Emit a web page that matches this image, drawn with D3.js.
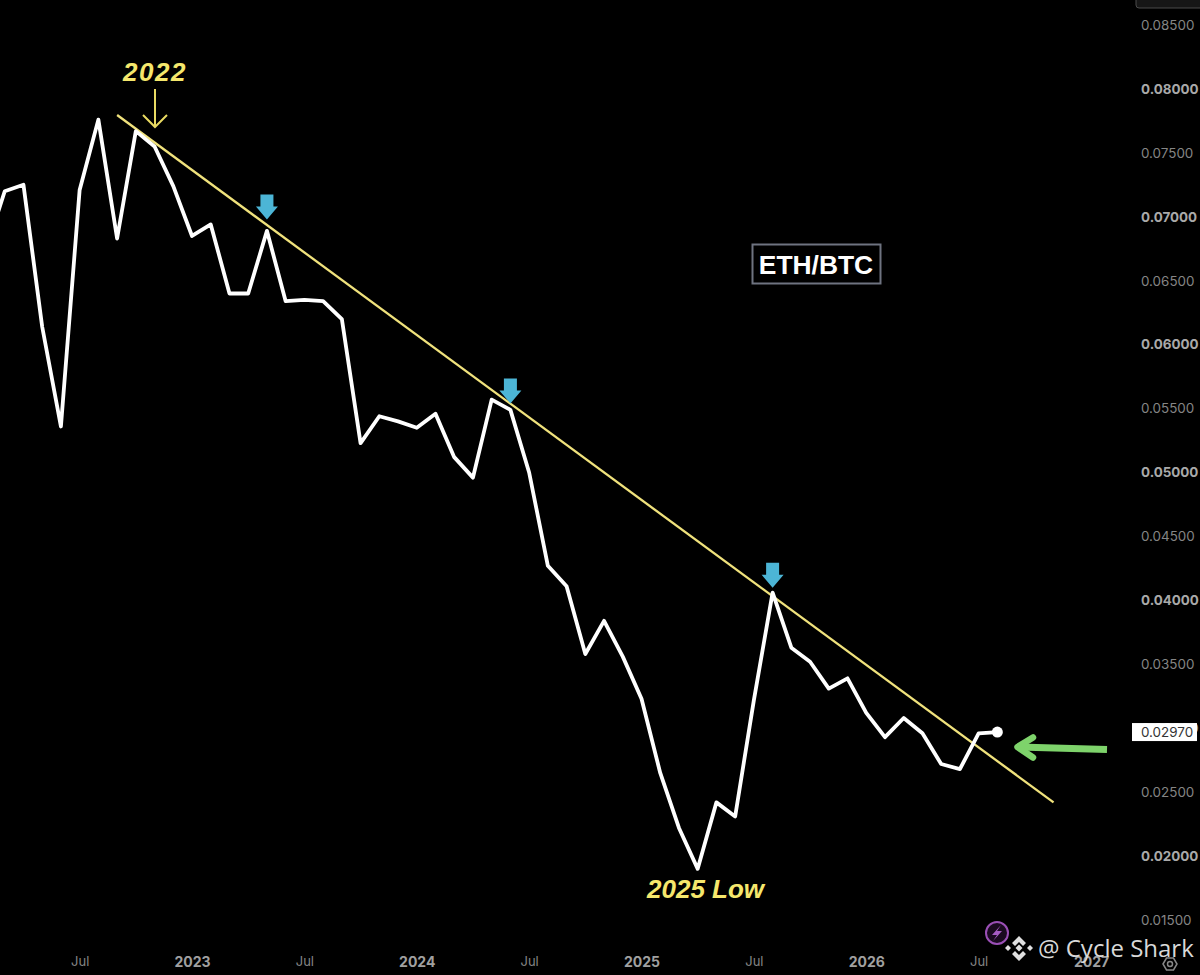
<!DOCTYPE html>
<html>
<head>
<meta charset="utf-8">
<script src="https://cdn.jsdelivr.net/npm/d3@7"></script>
<style>
html,body{margin:0;padding:0;background:#000;overflow:hidden}
svg{display:block}
</style>
</head>
<body>
<svg id="c" width="1200" height="975"></svg>
<script>
const months = ["2022-02","2022-03","2022-04","2022-05","2022-06","2022-07","2022-08","2022-09","2022-10","2022-11","2022-12",
"2023-01","2023-02","2023-03","2023-04","2023-05","2023-06","2023-07","2023-08","2023-09","2023-10","2023-11","2023-12",
"2024-01","2024-02","2024-03","2024-04","2024-05","2024-06","2024-07","2024-08","2024-09","2024-10","2024-11","2024-12",
"2025-01","2025-02","2025-03","2025-04","2025-05","2025-06","2025-07","2025-08","2025-09","2025-10","2025-11","2025-12",
"2026-01","2026-02","2026-03","2026-04","2026-05","2026-06","2026-07","2026-08"];
const axisMonths = months.concat(["2026-09","2026-10","2026-11","2026-12","2027-01"]);
const ethbtc = [0.0674,0.0720,0.0725,0.0614,0.0536,0.0721,0.0776,0.0683,0.0767,0.0755,0.0724,
0.0685,0.0694,0.0640,0.0640,0.0689,0.0634,0.0635,0.0634,0.0620,0.0523,0.0544,0.0540,
0.0535,0.0546,0.0512,0.0496,0.0557,0.0549,0.0500,0.0427,0.0411,0.0358,0.0384,0.0356,
0.0323,0.0265,0.0222,0.0190,0.0242,0.0231,0.0322,0.0406,0.0363,0.0352,0.0331,0.0339,
0.0312,0.0293,0.0308,0.0296,0.0272,0.0268,0.0296,0.0297];
const trendMonths = ["2022-09","2026-11"];
const trendValues = [0.07796,0.0242];
const xTickMonths = ["2022-07","2023-01","2023-07","2024-01","2024-07","2025-01","2025-07","2026-01","2026-07","2027-01"];
const xTickLabels = ["Jul","2023","Jul","2024","Jul","2025","Jul","2026","Jul","2027"];
const yTicks = [0.085,0.08,0.075,0.07,0.065,0.06,0.055,0.05,0.045,0.04,0.035,0.03,0.025,0.02,0.015];
const yBold = [0.08,0.07,0.06,0.05,0.04,0.03,0.02];
const lastLabel = "0.02970";
const resistanceTouches = [["2023-05",0.0694],["2024-06",0.0550],["2025-08",0.0406]].map(d=>({month:d[0],value:d[1]}));

const svg = d3.select("#c");
const x = d3.scalePoint().domain(axisMonths).range([-14,1091]);
const y = d3.scaleLinear().domain([0.015,0.085]).range([920,25]);

svg.append("rect").attr("width",1200).attr("height",975).attr("fill","#000");

// remnant of a top-right box
svg.append("rect").attr("x",1136).attr("y",-12).attr("width",90).attr("height",20).attr("rx",3)
  .attr("fill","#161616").attr("stroke","#4a4a4a").attr("stroke-width",1);

// y axis
const yAxis = svg.append("g").attr("transform","translate(1141,0)")
  .call(d3.axisRight(y).tickValues(yTicks).tickSize(0).tickPadding(0).tickFormat(d3.format(".5f")));
yAxis.select(".domain").remove();
yAxis.selectAll("text")
  .attr("font-family","Inter, sans-serif").attr("font-size",13.4)
  .attr("font-weight",d=>yBold.includes(d)?700:400)
  .attr("fill",d=>yBold.includes(d)?"#a9a9a9":"#858585");

// x axis
const xAxis = svg.append("g").attr("transform","translate(0,957)")
  .call(d3.axisBottom(x).tickValues(xTickMonths).tickSize(0).tickPadding(0)
    .tickFormat((d,i)=>xTickLabels[i]));
xAxis.select(".domain").remove();
xAxis.selectAll("text")
  .attr("font-family","Inter, sans-serif")
  .attr("font-size",(d,i)=>i%2?14:13)
  .attr("font-weight",(d,i)=>i%2?700:400)
  .attr("fill",(d,i)=>i%2?"#a0a0a0":"#858585");

// trend line
const line = d3.line().x(d=>x(d[0])).y(d=>y(d[1]));
svg.append("path").datum(d3.zip(trendMonths,trendValues)).attr("d",line)
  .attr("fill","none").attr("stroke","#f0e27c").attr("stroke-width",2.3);

// price line
svg.append("path").datum(d3.zip(months,ethbtc)).attr("d",line)
  .attr("fill","none").attr("stroke","#fff").attr("stroke-width",3.8).attr("stroke-linejoin","round");
svg.append("circle").attr("cx",x(months[months.length-1])).attr("cy",y(ethbtc[ethbtc.length-1])).attr("r",5.5).attr("fill","#fff");

// last price tag
const tagY = y(ethbtc[ethbtc.length-1]);
svg.append("rect").attr("x",1132).attr("y",tagY-9).attr("width",65).attr("height",18).attr("fill","#fff");
svg.append("text").attr("x",1141).attr("y",tagY+4.8).text(lastLabel)
  .attr("font-family","Inter, sans-serif").attr("font-size",13.4).attr("fill","#333");

// blue arrows
svg.selectAll(".blue").data(resistanceTouches).join("path").attr("class","blue")
  .attr("transform",d=>`translate(${x(d.month)},${y(d.value)-5})`)
  .attr("d","M0,0L-11,-13L-6.5,-13L-6.5,-25L6.5,-25L6.5,-13L11,-13Z")
  .attr("fill","#4cb5d6");

// yellow arrow
svg.append("path").attr("d","M155,89V127M143,115L155,127L167,115")
  .attr("fill","none").attr("stroke","#e9da62").attr("stroke-width",2);

// text annotations
function note(t,px,py,ls){
  svg.append("text").attr("x",px).attr("y",py).text(t)
    .attr("font-family","Liberation Sans, Arial, sans-serif").attr("font-size",26)
    .attr("font-weight",700).attr("font-style","italic").attr("letter-spacing",ls)
    .attr("fill","#f5e76c");
}
note("2022",123,81,1.5);
note("2025 Low",647,898,0);

// green arrow
svg.append("path").attr("d","M1107,749.5L1019,747")
  .attr("fill","none").attr("stroke","#7ed36b").attr("stroke-width",7);
svg.append("path").attr("d","M1033,737.5L1017.5,747L1033,757.5")
  .attr("fill","none").attr("stroke","#7ed36b").attr("stroke-width",6.5)
  .attr("stroke-linecap","round").attr("stroke-linejoin","round");

// ETH/BTC box
svg.append("rect").attr("x",752.5).attr("y",244.5).attr("width",128).attr("height",39)
  .attr("fill","#000").attr("stroke","#6e7380").attr("stroke-width",2);
svg.append("text").attr("x",816).attr("y",274).attr("text-anchor","middle").text("ETH/BTC")
  .attr("font-family","Liberation Sans, Arial, sans-serif").attr("font-size",26.4).attr("font-weight",700).attr("fill","#fff");

// watermark
const wm = svg.append("g");
wm.append("circle").attr("cx",997).attr("cy",933).attr("r",11).attr("fill","#1a0a20").attr("stroke","#9a4fb5").attr("stroke-width",2);
wm.append("path").attr("d","M1001,925L992,935L997,935L993,941L1002,931L997,931Z").attr("fill","#a65cc4");
const dia = (cx,cy,r)=>`M${cx},${cy-r}L${cx+r},${cy}L${cx},${cy+r}L${cx-r},${cy}Z`;
wm.append("path").attr("d",dia(1019,948,3.5)).attr("fill","#e0e0e0");
wm.append("path").attr("d",dia(1008,948,3)).attr("fill","#e0e0e0");
wm.append("path").attr("d",dia(1030,948,3)).attr("fill","#e0e0e0");
wm.append("path").attr("d","M1019,936L1026,943L1023,946L1019,942L1015,946L1012,943Z").attr("fill","#e0e0e0");
wm.append("path").attr("d","M1019,961L1026,954L1023,951L1019,955L1015,951L1012,954Z").attr("fill","#e0e0e0");
wm.append("text").attr("x",1038).attr("y",957).text("@ Cycle Shark")
  .attr("font-family","Open Sans, sans-serif").attr("font-size",24).attr("fill","#d8d8d8");

// gear
svg.append("path").attr("d","M1163,964L1166.5,958L1173.5,958L1177,964L1173.5,970L1166.5,970Z")
  .attr("fill","none").attr("stroke","#888").attr("stroke-width",1.5);
svg.append("circle").attr("cx",1170).attr("cy",964).attr("r",2.5).attr("fill","none").attr("stroke","#888").attr("stroke-width",1.5);
</script>
</body>
</html>
